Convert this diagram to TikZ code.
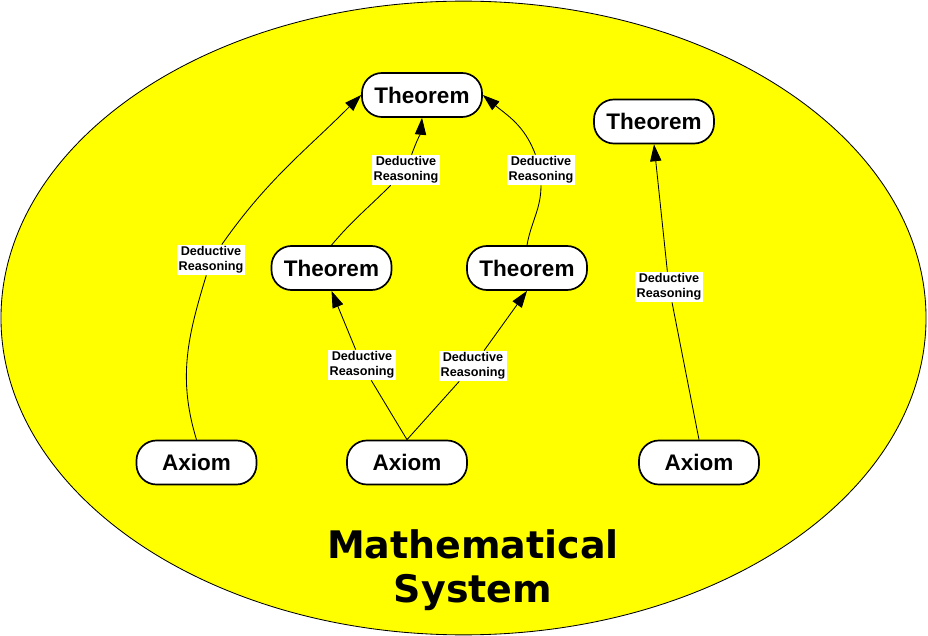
\documentclass[tikz,border=0pt]{standalone}
\usepackage{fontspec}
\setmainfont{Liberation Sans}
\newfontfamily\headfont{DejaVu Sans}
\usetikzlibrary{arrows.meta}
\definecolor{systemyellow}{RGB}{255,255,0}

\begin{document}
\begin{tikzpicture}[
  x=0.025cm, y=0.025cm,
  >={Triangle[length=12pt,width=8pt]},
  statement/.style={draw,line width=1.2pt,fill=white,rounded corners=0.5cm,minimum width=3cm,minimum height=1.1cm,inner sep=1pt,font=\bfseries\fontsize{16}{18}\selectfont},
  deduction/.style={fill=white,inner sep=1pt,align=center,font=\bfseries\fontsize{9}{11}\selectfont},
  link/.style={->,line width=0.6pt}
]
  \useasboundingbox (0,0) rectangle (928,-636);
  \draw[fill=systemyellow,line width=0.6pt] (463.5,-318) ellipse [x radius=11.56cm, y radius=7.92cm];

  \node[statement] (thmtop) at (422,-95) {Theorem};
  \node[statement] (thmleft) at (331.5,-268) {Theorem};
  \node[statement] (thmright) at (527,-268) {Theorem};
  \node[statement] (thmside) at (654,-121.5) {Theorem};
  \node[statement] (axleft) at (196.5,-462.5) {Axiom};
  \node[statement] (axmid) at (407,-462.5) {Axiom};
  \node[statement] (axright) at (699,-462.5) {Axiom};

  \node[deduction] (dedlong) at (211,-260) {Deductive\\Reasoning};
  \node[deduction] (dedupleft) at (406,-170) {Deductive\\Reasoning};
  \node[deduction] (dedupright) at (541,-170) {Deductive\\Reasoning};
  \node[deduction] (deddownleft) at (362,-365) {Deductive\\Reasoning};
  \node[deduction] (deddownright) at (473,-366) {Deductive\\Reasoning};
  \node[deduction] (dedside) at (669,-287) {Deductive\\Reasoning};

  \node[font=\headfont\bfseries\fontsize{27}{31}\selectfont,align=center] (title) at (473,-570) {Mathematical\\System};

  \draw[link] (axleft.north) to[out=107,in=-107] (dedlong) to[out=55,in=225] (thmtop.west);
  \draw[link] (thmleft.north) to[out=50,in=225] (dedupleft) to[out=70,in=-95] (thmtop.south);
  \draw[link] (thmright.north) to[out=80,in=-90] (dedupright) to[out=110,in=-40] (thmtop.east);
  \draw[link] (axmid.north) -- (deddownleft) -- (thmleft.south);
  \draw[link] (axmid.north) -- (deddownright) -- (thmright.south);
  \draw[link] (axright.north) -- (dedside) -- (thmside.south);
\end{tikzpicture}
\end{document}
